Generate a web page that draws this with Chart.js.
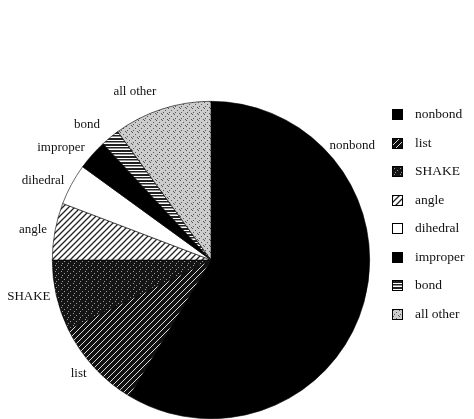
<!DOCTYPE html>
<html><head><meta charset="utf-8">
<script src="https://cdn.jsdelivr.net/npm/chart.js@4"></script>
<style>
body{margin:0;background:#fff;font-family:"Liberation Serif",serif;}
#wrap{position:relative;width:474px;height:419px;overflow:hidden;}
#legend{position:absolute;left:392px;top:106px;font-size:13.5px;color:#111;}
#legend div{height:28.5px;display:flex;align-items:flex-start;}
#legend span.b{display:inline-block;width:9px;height:9px;border:1px solid #000;margin:3px 12px 0 0;}
</style></head><body>
<div id="wrap"><canvas id="c" width="474" height="419"></canvas><div id="legend"></div></div>
<script>
const labels = ["nonbond","list","SHAKE","angle","dihedral","improper","bond","all other"];
const values = [58.6, 9.2, 7.2, 5.8, 4.2, 3.1, 1.9, 10.0];

function pat(kind){
  const c=document.createElement('canvas');c.width=6;c.height=6;const g=c.getContext('2d');
  if(kind==='black'){g.fillStyle='#000';g.fillRect(0,0,6,6);}
  else if(kind==='white'){g.fillStyle='#fff';g.fillRect(0,0,6,6);}
  else if(kind==='hatchDark'){g.fillStyle='#111';g.fillRect(0,0,6,6);g.strokeStyle='#ddd';g.lineWidth=1;g.beginPath();g.moveTo(0,6);g.lineTo(6,0);g.stroke();}
  else if(kind==='hatch'){g.fillStyle='#fff';g.fillRect(0,0,6,6);g.strokeStyle='#222';g.lineWidth=1.3;g.beginPath();g.moveTo(0,6);g.lineTo(6,0);g.moveTo(-1,1);g.lineTo(1,-1);g.moveTo(5,7);g.lineTo(7,5);g.stroke();}
  else if(kind==='stipDark'){g.fillStyle='#151515';g.fillRect(0,0,6,6);g.fillStyle='#999';g.fillRect(1,1,1,1);g.fillRect(4,3,1,1);g.fillRect(2,5,1,1);}
  else if(kind==='stipLight'){g.fillStyle='#ccc';g.fillRect(0,0,6,6);g.fillStyle='#555';g.fillRect(0,0,1,1);g.fillRect(3,2,1,1);g.fillRect(1,4,1,1);g.fillRect(5,5,1,1);}
  else if(kind==='hstripe'){g.fillStyle='#fff';g.fillRect(0,0,6,6);g.fillStyle='#222';g.fillRect(0,0,6,2);g.fillRect(0,3,6,1.5);}
  return c;
}
const kinds=["black","hatchDark","stipDark","hatch","white","black","hstripe","stipLight"];
const ctx=document.getElementById('c').getContext('2d');
const fills=kinds.map(k=>ctx.createPattern(pat(k),'repeat'));

const lg=document.getElementById('legend');
labels.forEach((l,i)=>{const d=document.createElement('div');const b=document.createElement('span');b.className='b';
  b.style.background='url('+pat(kinds[i]).toDataURL()+')';d.appendChild(b);d.appendChild(document.createTextNode(l));lg.appendChild(d);});

// extra radial offset per label, so the text sits roughly where the original has it
const labelGap=[14,10,6,8,8,10,16,18];
const outLabels={id:'outLabels',afterDraw(chart){
  const g=chart.ctx;const meta=chart.getDatasetMeta(0);
  g.save();g.font='13px "Liberation Serif", serif';g.fillStyle='#111';g.textBaseline='middle';
  meta.data.forEach((a,i)=>{
    const mid=(a.startAngle+a.endAngle)/2;const r=a.outerRadius+labelGap[i];
    const x=a.x+Math.cos(mid)*r, y=a.y+Math.sin(mid)*r;
    g.textAlign=Math.cos(mid)>0.1?'left':(Math.cos(mid)<-0.1?'right':'center');
    if(i===0){g.textAlign='right';g.fillText(labels[i],a.x+a.outerRadius*0.97+10,a.y-a.outerRadius*0.72);}
    else g.fillText(labels[i],x,y);
  });
  g.restore();}};

new Chart(ctx,{type:'pie',
  data:{labels:labels,datasets:[{data:values,backgroundColor:fills,borderColor:'#000',borderWidth:0.6}]},
  options:{responsive:false,animation:false,layout:{padding:{left:52,top:101,right:104,bottom:0}},
    plugins:{legend:{display:false},tooltip:{enabled:false}}},
  plugins:[outLabels]});
</script></body></html>
